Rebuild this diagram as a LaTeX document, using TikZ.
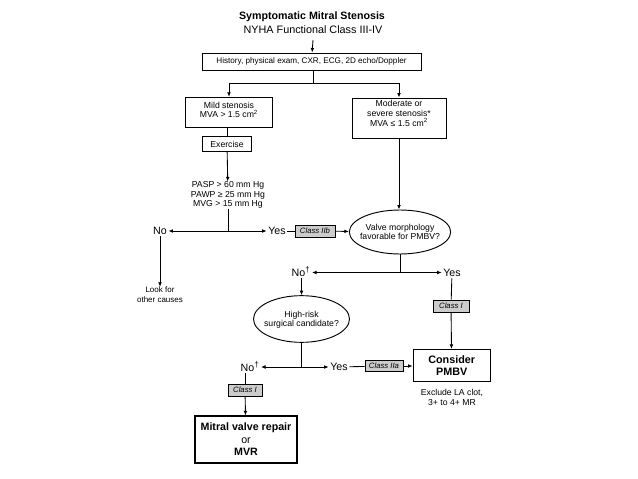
\documentclass[tikz,border=0pt]{standalone}
\usepackage{fontspec}
\setmainfont{Liberation Sans}
\usetikzlibrary{arrows.meta,shapes.geometric}
\begin{document}
\begin{tikzpicture}[x=0.75pt,y=-0.75pt,
  txt/.style={font=\fontsize{6.5}{7}\selectfont, align=center, inner sep=0pt},
  yn/.style={font=\fontsize{8}{9}\selectfont, inner sep=1pt},
  box/.style={draw, line width=0.7pt, inner sep=0pt},
  ell/.style={draw, ellipse, line width=0.7pt, inner sep=0pt},
  cls/.style={draw, fill=gray!40, line width=0.5pt, inner sep=0pt, font=\fontsize{5.8}{6}\itshape\selectfont},
  ln/.style={line width=0.65pt},
  arr/.style={line width=0.65pt, -{Latex[length=3.4pt,width=2.8pt]}}
]
\useasboundingbox (0,0) rectangle (638,478);
\node[font=\fontsize{8}{9}\bfseries\selectfont, inner sep=0pt] (t1) at (312,17) {Symptomatic Mitral Stenosis};
\node[font=\fontsize{8.1}{9}\selectfont, inner sep=0pt] (t2) at (313,30) {NYHA Functional Class III-IV};
\node[box, txt, font=\fontsize{6.1}{7}\selectfont, minimum width=164.25pt, minimum height=12.75pt] (hist) at (311.5,61.5) {History, physical exam, CXR, ECG, 2D echo/Doppler};
\node[box, minimum width=65.8pt, minimum height=22.8pt] (mild) at (229,112.5) {};
\node[txt] (mildt) at (229,110) {Mild stenosis\\MVA > 1.5 cm\textsuperscript{2}};
\node[box, minimum width=70.5pt, minimum height=30pt] (mod) at (399,118) {};
\node[txt, font=\fontsize{6.5}{7.3}\selectfont] (modt) at (399,113.5) {Moderate or\\severe stenosis*\\MVA ≤ 1.5 cm\textsuperscript{2}};
\node[box, txt, minimum width=36.75pt, minimum height=11.25pt] (ex) at (227,144) {Exercise};
\node[txt] (pasp) at (228,195) {PASP > 60 mm Hg\\PAWP ≥ 25 mm Hg\\MVG > 15 mm Hg};
\node[yn] (no1) at (160,231) {No};
\node[yn] (yes1) at (277,231) {Yes};
\node[cls, minimum width=30pt, minimum height=9pt] (c2b) at (315,231) {Class IIb};
\node[ell, minimum width=76pt, minimum height=33pt] (valve) at (400,232) {};
\node[txt] (valvet) at (400,232) {Valve morphology\\favorable for PMBV?};
\node[txt, font=\fontsize{6}{7.5}\selectfont] (look) at (160,295) {Look for\\other causes};
\node[yn] (no2) at (301,272) {No\textsuperscript{\dag}};
\node[yn] (yes2) at (452,273) {Yes};
\node[cls, minimum width=27pt, minimum height=9pt] (c1r) at (451,306) {Class I};
\node[ell, minimum width=72pt, minimum height=35pt] (hr) at (301.5,319) {};
\node[txt] (hrt) at (301.5,319.5) {High-risk\\surgical candidate?};
\node[box, txt, line width=0.8pt, minimum width=57.75pt, minimum height=24pt, font=\fontsize{8.1}{9.5}\bfseries\selectfont] (cons) at (451.7,365.5) {Consider\\PMBV};
\node[txt, font=\fontsize{6.5}{7.5}\selectfont] (excl) at (452,397) {Exclude LA clot,\\3+ to 4+ MR};
\node[yn] (no3) at (250,367) {No\textsuperscript{\dag}};
\node[yn] (yes3) at (339,367) {Yes};
\node[cls, minimum width=28.5pt, minimum height=8.25pt] (c2a) at (384,366) {Class IIa};
\node[cls, minimum width=25.5pt, minimum height=9pt] (c1l) at (245,390) {Class I};
\node[box, txt, line width=0.8pt, minimum width=76.5pt, minimum height=35.25pt, font=\fontsize{8}{9.4}\bfseries\selectfont] (mvr) at (246,439.5) {Mitral valve repair\\{\mdseries or}\\MVR};
% connectors
\draw[arr] (t2) ++(0,10) coordinate (a0) -- (hist);
\coordinate (j0) at (313,83);
\draw[ln] (hist.south -| j0) -- (j0);
\draw[arr] (j0) -| (mild.north);
\draw[arr] (j0) -| (mod.north);
\draw[ln] (mild.south -| ex.north) -- (ex.north);
\draw[arr] (ex) -- (pasp);
\coordinate (j1) at (228,231);
\draw[ln] (pasp) -- (j1);
\draw[arr] (j1) -- (no1);
\draw[arr] (j1) -- (yes1);
\draw[ln] (yes1) -- (c2b);
\draw[arr] (c2b) -- (valve);
\draw[arr] (mod.south) -- (mod.south |- valve.north);
\draw[arr] (no1) -- (look);
\coordinate (j2) at (400,272.5);
\draw[ln] (valve) -- (j2);
\draw[arr] (j2) -- (no2.east |- j2);
\draw[arr] (j2) -- (yes2.west |- j2);
\draw[arr] (no2.south -| hr.north) -- (hr.north);
\draw[ln] (yes2) -- (c1r);
\draw[arr] (c1r) -- (cons);
\coordinate (j3) at (301.5,367);
\draw[ln] (hr) -- (j3);
\draw[arr] (j3) -- (no3);
\draw[arr] (j3) -- (yes3);
\draw[ln] (yes3) -- (c2a);
\draw[arr] (c2a) -- (cons.west |- c2a);
\draw[ln] (no3.south -| c1l.north) -- (c1l.north);
\draw[arr] (c1l) -- (mvr);
\end{tikzpicture}
\end{document}
